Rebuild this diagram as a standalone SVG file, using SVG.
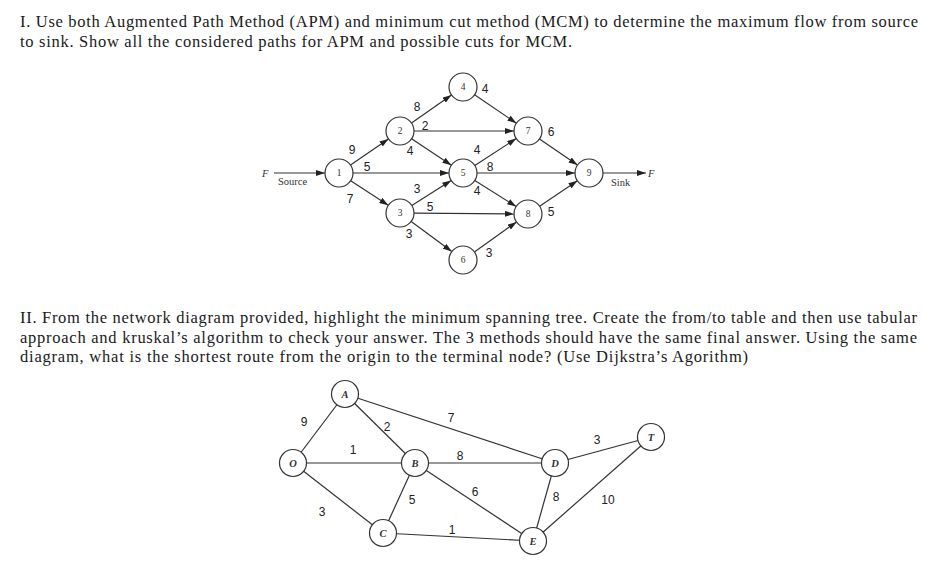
<svg xmlns="http://www.w3.org/2000/svg" width="943" height="565" viewBox="0 0 943 565">
<style>
.q{font-family:"Liberation Serif","Times New Roman",serif;font-size:16.5px;fill:#1a1a1a}
.n{fill:#fff;stroke:#333;stroke-width:1.2}
.nl{font-family:"Liberation Serif","Times New Roman",serif;font-size:9.5px;fill:#333;text-anchor:middle}
.bl{font-family:"Liberation Serif","Times New Roman",serif;font-size:10.5px;font-style:italic;font-weight:bold;fill:#333;text-anchor:middle}
.w{font-family:"Liberation Sans",Arial,sans-serif;font-size:12px;fill:#222;text-anchor:middle}
.e{stroke:#333;stroke-width:1.2;fill:none}
.a{marker-end:url(#ah)}
.sm{font-family:"Liberation Serif","Times New Roman",serif;font-size:10.5px;fill:#333}
</style>
<defs>
<marker id="ah" markerWidth="9" markerHeight="6" refX="9" refY="3" orient="auto" markerUnits="userSpaceOnUse">
<path d="M0,0 L9,3 L0,6 Z" fill="#222"/>
</marker>
</defs>
<rect width="943" height="565" fill="#fff"/>
<g id="text">
<text class="q" x="20" y="27" textLength="898" lengthAdjust="spacing">I. Use both Augmented Path Method (APM) and minimum cut method (MCM) to determine the maximum flow from source</text>
<text class="q" x="20" y="47" textLength="552" lengthAdjust="spacing">to sink. Show all the considered paths for APM and possible cuts for MCM.</text>
<text class="q" x="20" y="323" textLength="897" lengthAdjust="spacing">II. From the network diagram provided, highlight the minimum spanning tree. Create the from/to table and then use tabular</text>
<text class="q" x="20" y="343" textLength="897" lengthAdjust="spacing">approach and kruskal’s algorithm to check your answer. The 3 methods should have the same final answer. Using the same</text>
<text class="q" x="20" y="362" textLength="728" lengthAdjust="spacing">diagram, what is the shortest route from the origin to the terminal node? (Use Dijkstra’s Agorithm)</text>
</g>
<g id="connectors-flow">
<line class="e a" x1="274" y1="173" x2="325" y2="173"/>
<line class="e a" x1="350.5" y1="165.1" x2="388.5" y2="138.9"/>
<line class="e a" x1="353" y1="173" x2="449" y2="173"/>
<line class="e a" x1="350.7" y1="180.7" x2="388.3" y2="205.3"/>
<line class="e a" x1="411.5" y1="123" x2="451.5" y2="95"/>
<line class="e a" x1="414" y1="131" x2="514" y2="131"/>
<line class="e a" x1="411.6" y1="138.8" x2="451.4" y2="165.2"/>
<line class="e a" x1="411.8" y1="205.5" x2="451.2" y2="180.5"/>
<line class="e a" x1="414" y1="213.1" x2="514" y2="213.9"/>
<line class="e a" x1="411.2" y1="221.4" x2="451.8" y2="251.6"/>
<line class="e a" x1="474.6" y1="94.8" x2="516.4" y2="123.2"/>
<line class="e a" x1="474.8" y1="165.4" x2="516.2" y2="138.6"/>
<line class="e a" x1="477" y1="173" x2="575" y2="173"/>
<line class="e a" x1="474.8" y1="180.5" x2="516.2" y2="206.5"/>
<line class="e a" x1="474.4" y1="251.9" x2="516.6" y2="221.9"/>
<line class="e a" x1="539.5" y1="138.9" x2="577.5" y2="165.1"/>
<line class="e a" x1="539.6" y1="206.2" x2="577.4" y2="180.8"/>
<line class="e a" x1="603" y1="173" x2="646" y2="173"/>
</g>
<g id="flow-labels">
<text class="sm" x="262" y="177" font-style="italic">F</text>
<text class="sm" x="278" y="185">Source</text>
<text class="sm" x="648" y="177" font-style="italic">F</text>
<text class="sm" x="611" y="186">Sink</text>
<text class="w" x="352" y="154">9</text>
<text class="w" x="367" y="171">5</text>
<text class="w" x="350" y="203">7</text>
<text class="w" x="417" y="111">8</text>
<text class="w" x="425" y="130">2</text>
<text class="w" x="410" y="155">4</text>
<text class="w" x="417" y="193">3</text>
<text class="w" x="430" y="211">5</text>
<text class="w" x="409" y="238">3</text>
<text class="w" x="485" y="93">4</text>
<text class="w" x="477" y="154">4</text>
<text class="w" x="490" y="171">8</text>
<text class="w" x="477" y="195">4</text>
<text class="w" x="489" y="257">3</text>
<text class="w" x="551" y="136">6</text>
<text class="w" x="551" y="216">5</text>
</g>
<g id="node-1"><circle class="n" cx="339" cy="173" r="14"/><text class="nl" x="339" y="176">1</text></g>
<g id="node-2"><circle class="n" cx="400" cy="131" r="14"/><text class="nl" x="400" y="134">2</text></g>
<g id="node-3"><circle class="n" cx="400" cy="213" r="14"/><text class="nl" x="400" y="216">3</text></g>
<g id="node-4"><circle class="n" cx="463" cy="87" r="14"/><text class="nl" x="463" y="90">4</text></g>
<g id="node-5"><circle class="n" cx="463" cy="173" r="14"/><text class="nl" x="463" y="176">5</text></g>
<g id="node-6"><circle class="n" cx="463" cy="260" r="14"/><text class="nl" x="463" y="263">6</text></g>
<g id="node-7"><circle class="n" cx="528" cy="131" r="14"/><text class="nl" x="528" y="134">7</text></g>
<g id="node-8"><circle class="n" cx="528" cy="214" r="14"/><text class="nl" x="528" y="217">8</text></g>
<g id="node-9"><circle class="n" cx="589" cy="173" r="14"/><text class="nl" x="589" y="176">9</text></g>
<g id="connectors-network">
<line class="e" x1="293" y1="463" x2="345" y2="394"/>
<line class="e" x1="293" y1="463" x2="415" y2="463"/>
<line class="e" x1="293" y1="463" x2="383" y2="533"/>
<line class="e" x1="345" y1="394" x2="415" y2="463"/>
<line class="e" x1="345" y1="394" x2="555" y2="463"/>
<line class="e" x1="415" y1="463" x2="555" y2="463"/>
<line class="e" x1="415" y1="463" x2="383" y2="533"/>
<line class="e" x1="415" y1="463" x2="533" y2="541"/>
<line class="e" x1="383" y1="533" x2="533" y2="541"/>
<line class="e" x1="555" y1="463" x2="533" y2="541"/>
<line class="e" x1="555" y1="463" x2="651" y2="437"/>
<line class="e" x1="533" y1="541" x2="651" y2="437"/>
</g>
<g id="network-labels">
<text class="w" x="304" y="426">9</text>
<text class="w" x="387" y="431">2</text>
<text class="w" x="451" y="422">7</text>
<text class="w" x="353" y="454">1</text>
<text class="w" x="460" y="460">8</text>
<text class="w" x="412" y="504">5</text>
<text class="w" x="475" y="496">6</text>
<text class="w" x="322" y="516">3</text>
<text class="w" x="452" y="534">1</text>
<text class="w" x="597" y="444">3</text>
<text class="w" x="556" y="501">8</text>
<text class="w" x="608" y="504">10</text>
</g>
<g id="node-O"><circle class="n" cx="293" cy="463" r="13.5"/><text class="bl" x="293" y="466.5">O</text></g>
<g id="node-A"><circle class="n" cx="345" cy="394" r="13.5"/><text class="bl" x="345" y="397.5">A</text></g>
<g id="node-B"><circle class="n" cx="415" cy="463" r="13.5"/><text class="bl" x="415" y="466.5">B</text></g>
<g id="node-C"><circle class="n" cx="383" cy="533" r="13.5"/><text class="bl" x="383" y="536.5">C</text></g>
<g id="node-D"><circle class="n" cx="555" cy="463" r="13.5"/><text class="bl" x="555" y="466.5">D</text></g>
<g id="node-T"><circle class="n" cx="651" cy="437" r="13.5"/><text class="bl" x="651" y="440.5">T</text></g>
<g id="node-E"><circle class="n" cx="533" cy="541" r="13.5"/><text class="bl" x="533" y="544.5">E</text></g>
</svg>
